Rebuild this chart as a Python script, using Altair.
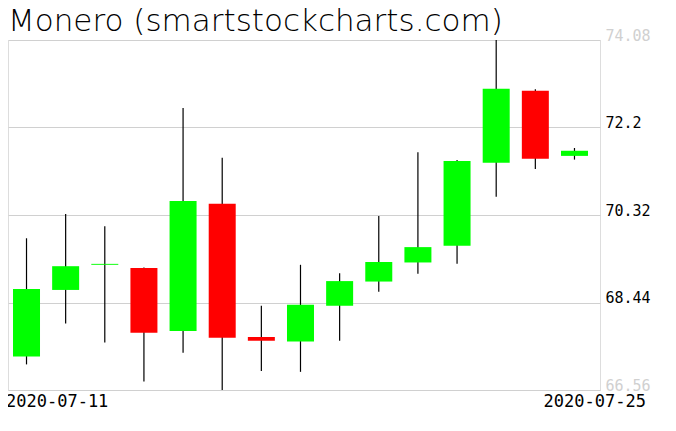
import altair as alt
import pandas as pd

dates = pd.date_range("2020-07-11", "2020-07-25", freq="D").strftime("%Y-%m-%d").tolist()
opens = [67.28, 68.71, 69.25, 69.18, 67.83, 70.56, 67.70, 67.60, 68.37, 68.89, 69.30, 69.66, 71.44, 72.99, 71.59]
closes = [68.73, 69.22, 69.27, 67.79, 70.62, 67.68, 67.62, 68.39, 68.90, 69.31, 69.63, 71.48, 73.03, 71.53, 71.70]
highs = [69.82, 70.34, 70.08, 69.19, 72.62, 71.55, 68.37, 69.25, 69.07, 70.30, 71.67, 71.50, 74.08, 73.02, 71.76]
lows = [67.11, 67.99, 67.58, 66.74, 67.36, 66.56, 66.97, 66.95, 67.62, 68.67, 69.06, 69.27, 70.71, 71.31, 71.51]
y_ticks = [66.56, 68.44, 70.32, 72.2, 74.08]

df = pd.DataFrame({"date": dates, "open": opens, "close": closes, "high": highs, "low": lows})
df["dir"] = ["up" if c >= o else "down" for o, c in zip(opens, closes)]

font = "DejaVu Sans"
mono = "DejaVu Sans Mono"

x_scale = alt.Scale(
    type="utc",
    padding=0,
    domain=[
        alt.DateTime(year=2020, month=7, date=10, hours=12, minutes=39, utc=True),
        alt.DateTime(year=2020, month=7, date=25, hours=15, minutes=39, utc=True),
    ],
)
y_scale = alt.Scale(domain=[66.56, 74.08], nice=False, zero=False)

x_axis = alt.Axis(
    values=[
        alt.DateTime(year=2020, month=7, date=11, utc=True),
        alt.DateTime(year=2020, month=7, date=25, utc=True),
    ],
    format="%Y-%m-%d",
    title=None,
    grid=False,
    domain=False,
    ticks=False,
    labelFont=mono,
    labelFontSize=17,
    labelColor="black",
    labelPadding=3,
    labelFlush=False,
    labelBound=False,
    labelOverlap=False,
    labelAlign={"expr": "datum.index == 0 ? 'left' : 'right'"},
    labelOffset={"expr": "datum.index == 0 ? -21 : 71"},
)

y_axis = alt.Axis(
    orient="right",
    values=y_ticks,
    format=".2~f",
    title=None,
    domain=False,
    ticks=False,
    gridColor="#d0d0d0",
    gridWidth=1,
    labelFont=mono,
    labelFontSize=15,
    labelAlign="left",
    labelBaseline="alphabetic",
    labelPadding=5,
    labelColor={"expr": "datum.value == 66.56 || datum.value == 74.08 ? '#d0d0d0' : 'black'"},
)

wicks = alt.Chart(df).mark_rule(color="black", strokeWidth=1.2).encode(
    x=alt.X("date:T", scale=x_scale, axis=x_axis),
    y=alt.Y("low:Q", scale=y_scale, axis=y_axis),
    y2="high:Q",
)

bodies = alt.Chart(df).mark_bar(size=27).encode(
    x=alt.X("date:T", scale=x_scale, axis=x_axis),
    y=alt.Y("open:Q", scale=y_scale, axis=y_axis),
    y2="close:Q",
    color=alt.Color(
        "dir:N",
        scale=alt.Scale(domain=["up", "down"], range=["#00ff00", "#ff0000"]),
        legend=None,
    ),
)

chart = (
    alt.layer(wicks, bodies)
    .properties(
        width=592,
        height=350,
        autosize=alt.AutoSizeParams(type="none"),
        padding={"left": 0, "top": 32, "right": 58, "bottom": 30},
        title=alt.TitleParams(
            "Monero (smartstockcharts.com)",
            anchor="start",
            frame="group",
            font=font,
            fontSize=31,
            fontWeight=200,
            color="black",
            baseline="bottom",
            offset=-41,
        ),
    )
    .configure_view(stroke="transparent", strokeWidth=0)
    .configure_axisX(grid=False, domain=False, ticks=False)
    .configure_axisY(domain=False, ticks=False)
    .configure(background="white")
)

chart.save("out.html", embed_options={"renderer": "svg", "actions": False})
